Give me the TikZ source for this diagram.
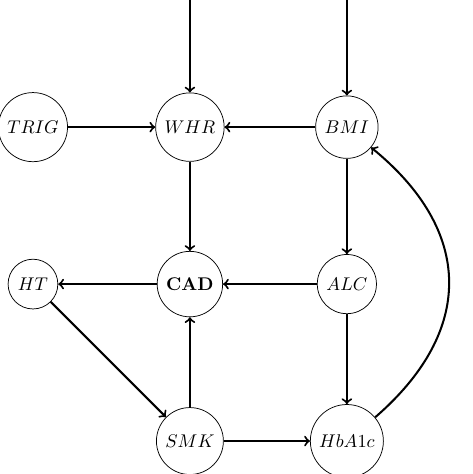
\documentclass[tikz,border=0pt]{standalone}
\usepackage{tikz}
\usetikzlibrary{arrows.meta, positioning}
\usepackage{amsmath, amssymb}

\begin{document}
\begin{tikzpicture}[
        node distance=3cm,on grid,>=to,
        every edge/.style={draw, line width=1.1pt},
        var/.style={circle, draw, inner sep=3.5pt},
        ]
        \useasboundingbox (-0.63,-6.63) rectangle (8.41,2.43);
        \node[var]            (trig)                       {$TRIG$};
        \node[var]            (whr)  [right=of trig]       {$WHR$};
        \node[var]            (bmi)  [right=of whr]        {$BMI$};
        \node[var]            (cad)  [below=of whr]        {$\mathbf{CAD}$};
        \node[var]            (ht)   [left=of cad]         {$HT$};
        \node[var]            (alc)  [below=of bmi]        {$ALC$};
        \node[var]            (smk)  [below=of cad]        {$SMK$};
        \node[var]            (hba1c) [below=of alc]       {$HbA1c$};
        \coordinate[above=of whr] (whr_top);
        \coordinate[above=of bmi] (bmi_top);

        \path[->] (whr_top) edge (whr)
                  (bmi_top) edge (bmi)
                  (trig) edge (whr)
                  (bmi) edge (whr)
                  (bmi) edge (alc)
                  (whr) edge (cad)
                  (alc) edge (cad)
                  (cad) edge (ht)
                  (ht) edge (smk)
                  (smk) edge (cad)
                  (alc) edge (hba1c)
                  (smk) edge (hba1c)
                  (hba1c) edge [bend right=50, looseness=1.25] (bmi);
      \end{tikzpicture}
\end{document}
